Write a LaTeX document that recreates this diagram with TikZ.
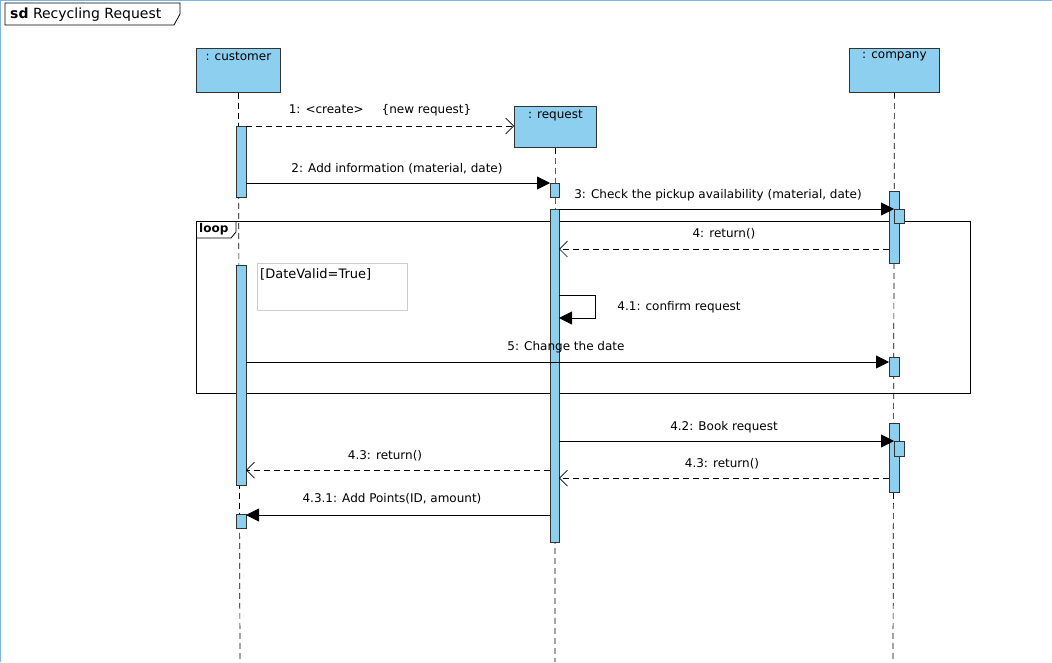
\documentclass[tikz,border=0pt]{standalone}
\usepackage{fontspec}
\setmainfont{DejaVu Sans}
\usetikzlibrary{arrows.meta}
\definecolor{fillb}{HTML}{8DCFEF}
\definecolor{edge}{HTML}{7FB4E0}
\begin{document}
\begin{tikzpicture}[x=1pt,y=-1pt,
  obj/.style={draw=black!80,fill=fillb,line width=0.8pt},
  act/.style={draw=black!80,fill=fillb,line width=0.7pt},
  life/.style={dashed,dash pattern=on 6pt off 4pt,line width=0.7pt},
  sync/.style={line width=0.8pt,-{Triangle[length=13pt,width=13pt]}},
  ret/.style={line width=0.7pt,dash pattern=on 6pt off 4pt,-{Straight Barb[length=8pt,width=16pt,line width=0.7pt]}},
  lbl/.style={font=\fontsize{12}{14}\selectfont,inner sep=0}]
\useasboundingbox (0,0) rectangle (1052,662);
\draw[edge,line width=1pt] (0.5,662) -- (0.5,0.5) -- (1052,0.5);
% sd frame
\draw[line width=0.8pt] (5,25) -- (5,3) -- (180,3) -- (180,14) -- (174,25) -- cycle;
\node[lbl,anchor=west,font=\fontsize{14}{16}\selectfont] (sd) at (10,15) {\textbf{sd} Recycling Request};
% objects
\node[obj,minimum width=84pt,minimum height=44pt,anchor=north west] (cust) at (196,48) {};
\node[lbl,anchor=north] at (cust.north) [yshift=-4pt] {: customer};
\node[obj,minimum width=82pt,minimum height=41pt,anchor=north west] (req) at (514,106) {};
\node[lbl,anchor=north] at (req.north) [yshift=-4pt] {: request};
\node[obj,minimum width=90pt,minimum height=44pt,anchor=north west] (comp) at (849,48) {};
\node[lbl,anchor=north] at (comp.north) [yshift=-4pt] {: company};
\coordinate (ce) at (240,662); \coordinate (re) at (555,662); \coordinate (pe) at (893,662);
\draw[life] (cust.south) -- (ce);
\draw[life] (req.south) -- (re);
\draw[life] (comp.south) -- (pe);
% loop frame
\draw[line width=0.8pt] (196,221) rectangle (970,393);
\draw[line width=0.8pt] (196,238) -- (231,238) -- (236,232) -- (236,221);
\node[lbl,anchor=west,font=\fontsize{12}{14}\selectfont\bfseries] at (199,229.5) {loop};
% guard
\draw[black!20,line width=0.6pt] (257,263) rectangle (407,310);
\node[lbl,anchor=west,font=\fontsize{13}{15}\selectfont] (g) at (260,274) {[DateValid=True]};
% activations
\draw[act] (236,126) rectangle (246,197);
\draw[act] (236,265) rectangle (246,485);
\draw[act] (236,514) rectangle (246,528);
\draw[act] (550,183) rectangle (559,197);
\draw[act] (550,209) rectangle (559,542);
\draw[act] (889,191) rectangle (899,263);
\draw[act] (894,209) rectangle (904,223);
\draw[act] (889,357) rectangle (899,376);
\draw[act] (889,423) rectangle (899,492);
\draw[act] (894,441) rectangle (904,456);
% messages
\coordinate (m1a) at (246,126); \coordinate (m1b) at (514,126);
\draw[ret] (m1a) -- (m1b);
\node[lbl] at (380,110) {1: <create>\hspace{18pt}\{new request\}};
\coordinate (m2a) at (246,183); \coordinate (m2b) at (550,183);
\draw[sync] (m2a) -- (m2b);
\node[lbl] at (397,169) {2: Add information (material, date)};
\coordinate (m3a) at (559,209); \coordinate (m3b) at (894,209);
\draw[sync] (m3a) -- (m3b);
\node[lbl] at (718,195) {3: Check the pickup availability (material, date)};
\coordinate (m4a) at (889,249); \coordinate (m4b) at (559,249);
\draw[ret] (m4a) -- (m4b);
\node[lbl] at (724,234) {4: return()};
\coordinate (s1) at (559,295); \coordinate (s2) at (559,318);
\draw[sync] (s1) -- (595,295) -- (595,318) -- (s2);
\node[lbl] at (679,307) {4.1: confirm request};
\coordinate (m5a) at (246,362); \coordinate (m5b) at (889,362);
\draw[sync] (m5a) -- (m5b);
\node[lbl] at (566,347) {5: Change the date};
\coordinate (m6a) at (559,441); \coordinate (m6b) at (894,441);
\draw[sync] (m6a) -- (m6b);
\node[lbl] at (724,427) {4.2: Book request};
\coordinate (m7a) at (889,478); \coordinate (m7b) at (559,478);
\draw[ret] (m7a) -- (m7b);
\node[lbl] at (722,464) {4.3: return()};
\coordinate (m8a) at (550,470); \coordinate (m8b) at (246,470);
\draw[ret] (m8a) -- (m8b);
\node[lbl] at (385,456) {4.3: return()};
\coordinate (m9a) at (550,515); \coordinate (m9b) at (246,515);
\draw[sync] (m9a) -- (m9b);
\node[lbl] at (392,499) {4.3.1: Add Points(ID, amount)};
\end{tikzpicture}
\end{document}
